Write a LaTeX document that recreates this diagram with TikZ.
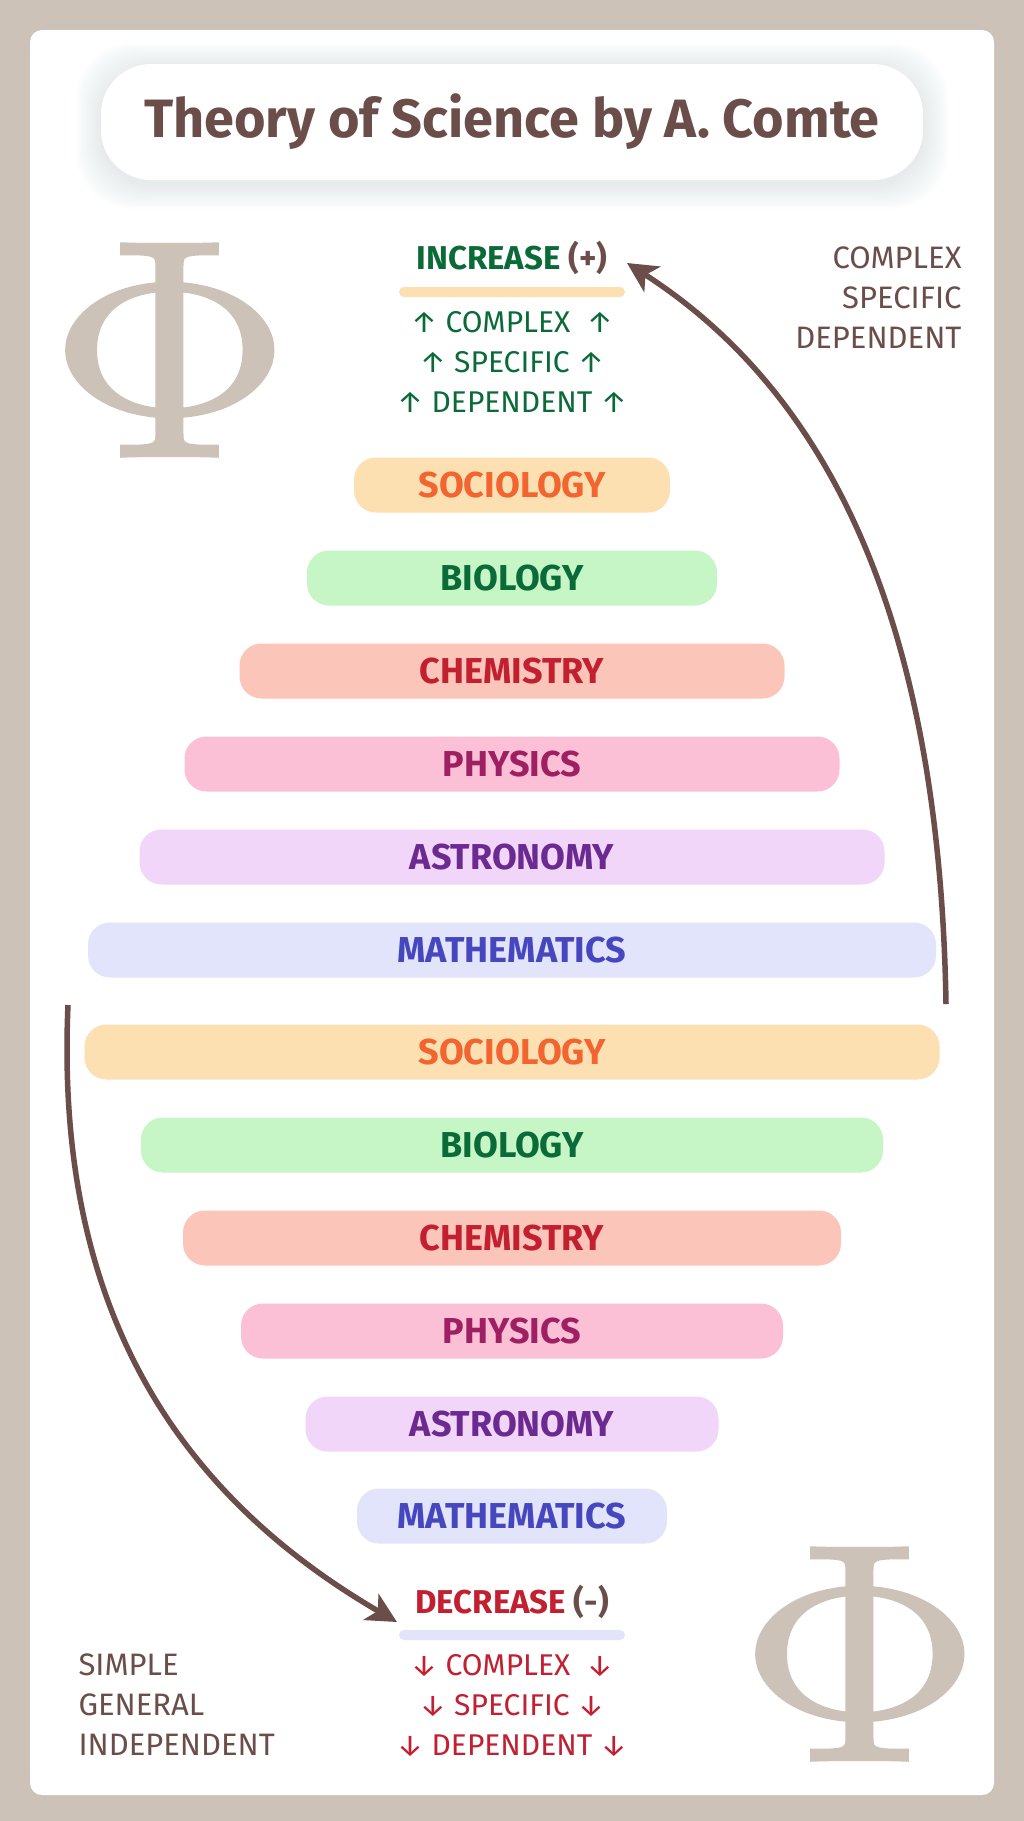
\documentclass[tikz,border=0pt]{standalone}
\usepackage{fontspec}
\setsansfont{Fira Sans}
\newfontfamily\phifont[FakeBold=1.6]{Latin Modern Roman}
\usetikzlibrary{arrows.meta}
\definecolor{framec}{HTML}{CCC2B8}
\definecolor{brownc}{HTML}{6B4E4A}
\definecolor{shadowc}{HTML}{8E9AB0}
\definecolor{socfill}{HTML}{FDE0B2}\definecolor{soctext}{HTML}{F26430}
\definecolor{biofill}{HTML}{C6F5C6}\definecolor{biotext}{HTML}{0B6B38}
\definecolor{chemfill}{HTML}{FCC5B9}\definecolor{chemtext}{HTML}{C21F30}
\definecolor{physfill}{HTML}{FCC0D6}\definecolor{phystext}{HTML}{9E2063}
\definecolor{astrofill}{HTML}{F2D6FA}\definecolor{astrotext}{HTML}{6B2A90}
\definecolor{mathfill}{HTML}{E1E4FA}\definecolor{mathtext}{HTML}{4646BF}
\begin{document}
\begin{tikzpicture}[x=1pt,y=-1pt,font=\sffamily,
  bar/.style={rounded corners=22pt,minimum height=55pt,inner sep=0pt,
    font=\sffamily\bfseries\fontsize{36}{40}\selectfont},
  head/.style={font=\sffamily\bfseries\fontsize{33}{36}\selectfont},
  rule/.style={minimum width=226pt,minimum height=10pt,inner sep=0pt,rounded corners=5pt},
  list/.style={align=center,font=\sffamily\fontsize{30}{40}\selectfont},
  side/.style={text=brownc,font=\sffamily\fontsize{31}{40}\selectfont},
  phi/.style={text=framec,inner sep=0pt,font=\phifont\fontsize{308}{308}\selectfont},
  flow/.style={draw=brownc,line width=5.5pt,-{Stealth[length=30pt,width=30pt,inset=8pt]}}]
\useasboundingbox (0,0) rectangle (1024,1821);
\fill[framec] (0,0) rectangle (1024,1821);
\fill[white,rounded corners=12pt] (30,30) rectangle (994,1795);

% title with soft shadow
\foreach \s in {1,...,10}
  \fill[shadowc,opacity=0.018,rounded corners=55pt] (101-2.5*\s,68-2.5*\s) rectangle (923+2.5*\s,184+2.5*\s);
\node[fill=white,rounded corners=50pt,minimum width=822pt,minimum height=116pt,
  text=brownc,font=\sffamily\bfseries\fontsize{54}{60}\selectfont] (title) at (512,122) {Theory of Science by A. Comte};

\node[phi] (phitop) at (170,350) {\scalebox{1.15}[1]{Φ}};
\node[phi] (phibot) at (860,1654) {\scalebox{1.15}[1]{Φ}};

% upper end
\node[head,text=biotext] (inc) at (512,258) {INCREASE \textcolor{brownc}{(+)}};
\node[rule,fill=socfill] (incbar) at (512,292) {};
\node[list,text=biotext] (inclist) at (512,362) {↑ COMPLEX\ \ ↑\\↑ SPECIFIC ↑\\↑ DEPENDENT ↑};
\node[side,align=right,anchor=east] (cplx) at (965,298) {COMPLEX\\SPECIFIC\\DEPENDENT};

% the two ladders
\foreach \y/\w/\n/\c/\t in {485/316/up1/soc/SOCIOLOGY,578/410/up2/bio/BIOLOGY,
    671/545/up3/chem/CHEMISTRY,764/655/up4/phys/PHYSICS,
    857/745/up5/astro/ASTRONOMY,950/848/up6/math/MATHEMATICS,
    1052/855/dn1/soc/SOCIOLOGY,1145/742/dn2/bio/BIOLOGY,
    1238/658/dn3/chem/CHEMISTRY,1331/542/dn4/phys/PHYSICS,
    1424/413/dn5/astro/ASTRONOMY,1516/310/dn6/math/MATHEMATICS}
  \node[bar,fill=\c fill,text=\c text,minimum width=\w pt] (\n) at (512,\y) {\t};

% lower end
\node[head,text=chemtext] (dec) at (512,1602) {DECREASE \textcolor{brownc}{(-)}};
\node[rule,fill=mathfill] (decbar) at (512,1635) {};
\node[list,text=chemtext] (declist) at (512,1705) {↓ COMPLEX\ \ ↓\\↓ SPECIFIC ↓\\↓ DEPENDENT ↓};
\node[side,align=left,anchor=west] (smpl) at (75,1705) {SIMPLE\\GENERAL\\INDEPENDENT};

% arrows
\coordinate (rs) at (946,1004);
\coordinate (re) at (627,263);
\coordinate (ls) at (68,1005);
\coordinate (le) at (397,1622);
\draw[flow] (rs) .. controls (940,640) and (840,400) .. (re);
\draw[flow] (ls) .. controls (55,1300) and (170,1490) .. (le);
\end{tikzpicture}
\end{document}
